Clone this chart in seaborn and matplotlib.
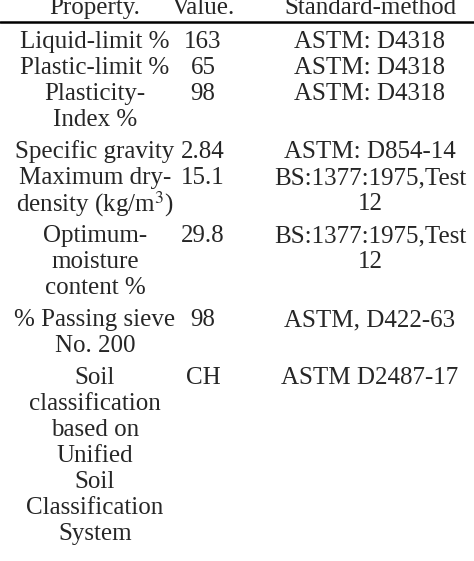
import matplotlib
matplotlib.use("Agg")
import matplotlib.pyplot as plt
import seaborn as sns

sns.set_style("white")
plt.rcParams['font.family'] = ['Liberation Serif', 'DejaVu Serif']
plt.rcParams['mathtext.fontset'] = 'stix'

headers = ["Property.", "Value.", "Standard-method"]
properties = [
    ["Liquid-limit %"],
    ["Plastic-limit %"],
    ["Plasticity-", "Index %"],
    ["Specific gravity"],
    ["Maximum dry-", "density (kg/m$^3$)"],
    ["Optimum-", "moisture", "content %"],
    ["% Passing sieve", "No. 200"],
    ["Soil", "classification", "based on", "Unified", "Soil", "Classification", "System"],
]
values = ["163", "65", "98", "2.84", "15.1", "29.8", "98", "CH"]
methods = [
    ["ASTM: D4318"],
    ["ASTM: D4318"],
    ["ASTM: D4318"],
    ["ASTM: D854-14"],
    ["BS:1377:1975,Test", "12"],
    ["BS:1377:1975,Test", "12"],
    ["ASTM, D422-63"],
    ["ASTM D2487-17"],
]

fig = plt.figure(figsize=(4.74, 5.61), dpi=100)
ax = fig.add_axes([0, 0, 1, 1])
ax.set_xlim(0, 474)
ax.set_ylim(561, 0)
ax.axis('off')

col_x = [95, 203, 370]
fs = 18
line_h = 26
gap = 6

for x, h in zip(col_x, headers):
    ax.text(x, 8, h, ha='center', va='center', fontsize=fs)
ax.axhline(22, color='black', lw=1.8)

y = 42
for prop, val, meth in zip(properties, values, methods):
    for i, t in enumerate(prop):
        ax.text(col_x[0], y + i * line_h, t, ha='center', va='center', fontsize=fs)
    ax.text(col_x[1], y, val, ha='center', va='center', fontsize=fs)
    for i, t in enumerate(meth):
        ax.text(col_x[2], y + i * line_h, t, ha='center', va='center', fontsize=fs)
    n = max(len(prop), len(meth))
    y += n * line_h + (gap if n > 1 else 0)

fig.savefig('out.png', dpi=100)
plt.close(fig)
